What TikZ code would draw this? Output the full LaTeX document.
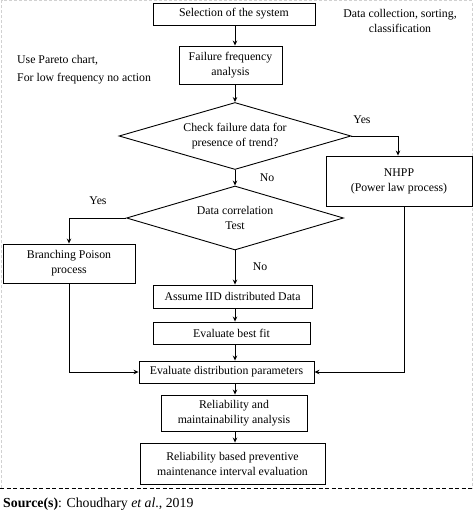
\documentclass[tikz,border=0pt]{standalone}
\usepackage{fontspec}
\setmainfont{Liberation Serif}
\usetikzlibrary{shapes.geometric,arrows.meta,calc}
\begin{document}
\begin{tikzpicture}[x=1pt,y=-1pt,
  every node/.style={font=\fontsize{11.8}{15}\selectfont},
  box/.style={draw,line width=0.9pt,rectangle,inner sep=0pt,align=center},
  dec/.style={draw,line width=0.9pt,diamond,inner sep=0pt,align=center},
  lbl/.style={inner sep=0pt,align=center},
  arr/.style={line width=0.9pt,-{Stealth[length=5pt,width=4.5pt]}},
  ln/.style={line width=0.9pt}]
\useasboundingbox (0,0) rectangle (474,514);
\draw[black!18,line width=1.3pt,dash pattern=on 3pt off 2pt] (1.5,488) -- (1.5,0.8) -- (472.5,0.8) -- (472.5,488);
\draw[line width=0.8pt,dash pattern=on 4pt off 2.5pt] (0,488) -- (474,488);

\node[box,minimum width=162pt,minimum height=22pt] (b1) at (234,14) {Selection of the system};
\node[box,minimum width=103pt,minimum height=38pt] (b2) at (230.5,65) {Failure frequency\\analysis};
\node[dec,shape aspect=3.46,minimum width=232pt,minimum height=67pt] (d1) at (235,136) {Check failure data for\\presence of trend?};
\node[box,minimum width=146pt,minimum height=50pt] (nh) at (399,181) {NHPP\\(Power law process)};
\node[dec,shape aspect=3.39,minimum width=217pt,minimum height=64pt] (d2) at (235,218) {Data correlation\\Test};
\node[box,minimum width=132pt,minimum height=39pt] (bp) at (69,263.5) {Branching Poison\\process};
\node[box,minimum width=159pt,minimum height=23pt] (iid) at (232.5,296.5) {Assume IID distributed Data};
\node[box,minimum width=157pt,minimum height=22pt] (bf) at (231.5,333) {Evaluate best fit};
\node[box,minimum width=175pt,minimum height=22pt] (ed) at (226.5,372) {Evaluate distribution parameters};
\node[box,minimum width=146pt,minimum height=36pt] (rm) at (234,413) {Reliability and\\maintainability analysis};
\node[box,minimum width=185pt,minimum height=41pt] (rb) at (232.5,463.5) {Reliability based preventive\\maintenance interval evaluation};

\node[lbl] (t1) at (400,20.5) {Data collection, sorting,\\classification};
\node[lbl,anchor=west] (t2) at (17,60) {Use Pareto chart,};
\node[lbl,anchor=west] (t3) at (17,79) {For low frequency no action};
\node[lbl] (y1) at (362,120) {Yes};
\node[lbl] (n1) at (267,178) {No};
\node[lbl] (y2) at (98,201) {Yes};
\node[lbl] (n2) at (260,267) {No};
\node[lbl,anchor=west,font=\fontsize{13.8}{16}\selectfont] (src) at (3,504.5) {\textbf{Source(s)}: Choudhary \textit{et al}., 2019};

\coordinate (cx) at (235,0);
\draw[arr] (b1.south -| cx) -- (b2.north -| cx);
\draw[arr] (b2.south -| cx) -- (d1.north);
\draw[arr] (d1.east) -| (nh.north -| 398,0);
\draw[arr] (d1.south) -- (d2.north);
\draw[arr] (d2.west) -| (bp.north);
\draw[arr] (d2.south) -- (iid.north -| cx);
\draw[arr] (iid.south -| cx) -- (bf.north -| cx);
\draw[arr] (bf.south -| cx) -- (ed.north -| cx);
\draw[arr] (bp.south) |- (ed.west);
\draw[arr] (nh.south -| 404,0) |- (ed.east);
\draw[arr] (ed.south -| cx) -- (rm.north -| cx);
\draw[arr] (rm.south -| cx) -- (rb.north -| cx);
\end{tikzpicture}
\end{document}
